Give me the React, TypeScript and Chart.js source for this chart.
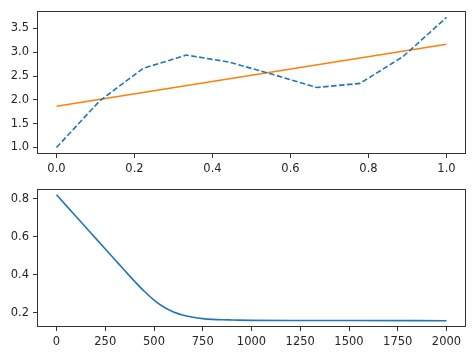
import React, { useEffect, useRef } from "react";
import { Chart, registerables } from "chart.js";

Chart.register(...registerables);

// ---------- data ----------
const TOP_X = [0, 0.111, 0.222, 0.333, 0.444, 0.556, 0.667, 0.778, 0.889, 1.0];
const TOP_BLUE = [1.0, 1.98, 2.66, 2.94, 2.79, 2.53, 2.26, 2.345, 2.91, 3.73];
const FIT_X = [0, 1.0];
const FIT_Y = [1.865, 3.167];
const TOP_X_TICKS = [0, 0.2, 0.4, 0.6, 0.8, 1.0];
const TOP_Y_TICKS = [1.0, 1.5, 2.0, 2.5, 3.0, 3.5];

const LOSS_X = [0, 50, 100, 150, 200, 250, 300, 350, 400, 450, 500, 550, 600, 650, 700, 750, 800, 850, 900, 1000, 1200, 1500, 2000];
const LOSS_Y = [0.82, 0.763, 0.706, 0.649, 0.592, 0.535, 0.478, 0.421, 0.365, 0.312, 0.266, 0.229, 0.203, 0.186, 0.175, 0.168, 0.164, 0.162, 0.161, 0.159, 0.158, 0.158, 0.157];
const LOSS_X_TICKS = [0, 250, 500, 750, 1000, 1250, 1500, 1750, 2000];
const LOSS_Y_TICKS = [0.2, 0.4, 0.6, 0.8];

const BLUE = "#1f77b4";
const ORANGE = "#ff7f0e";
const AXIS = "#333333";
const TEXT = "#262626";
const FONT = { family: "DejaVu Sans", size: 11.5 };

const framePlugin = {
  id: "frame",
  afterDraw(chart: any) {
    const { ctx, chartArea } = chart;
    ctx.save();
    ctx.strokeStyle = AXIS;
    ctx.lineWidth = 1;
    const l = Math.round(chartArea.left) + 0.5;
    const t = Math.round(chartArea.top) + 0.5;
    const r = Math.round(chartArea.right) - 0.5;
    const b = Math.round(chartArea.bottom) - 0.5;
    ctx.strokeRect(l, t, r - l, b - t);
    ctx.restore();
  },
};

function axisOpts(
  min: number,
  max: number,
  ticks: number[],
  fmt: (v: number) => string,
  fitKey: "width" | "height",
  fitVal: number
) {
  return {
    type: "linear" as const,
    min,
    max,
    border: { display: false },
    grid: {
      drawOnChartArea: false,
      drawTicks: true,
      tickLength: 4,
      tickColor: AXIS,
      color: AXIS,
    },
    ticks: {
      color: TEXT,
      padding: 4,
      maxRotation: 0,
      autoSkip: false,
      font: FONT,
      callback: (v: any) => fmt(Number(v)),
    },
    afterBuildTicks: (scale: any) => {
      scale.ticks = ticks.map((v) => ({ value: v }));
    },
    afterFit: (scale: any) => {
      scale[fitKey] = fitVal;
    },
  };
}

function TopChart() {
  const ref = useRef<HTMLCanvasElement>(null);
  useEffect(() => {
    const chart = new Chart(ref.current!, {
      type: "scatter",
      data: {
        datasets: [
          {
            data: TOP_X.map((x, i) => ({ x, y: TOP_BLUE[i] })),
            showLine: true,
            borderColor: BLUE,
            borderWidth: 1.6,
            borderDash: [5.5, 2.5],
            pointRadius: 0,
            fill: false,
          },
          {
            data: FIT_X.map((x, i) => ({ x, y: FIT_Y[i] })),
            showLine: true,
            borderColor: ORANGE,
            borderWidth: 1.6,
            pointRadius: 0,
            fill: false,
          },
        ],
      },
      options: {
        responsive: false,
        animation: false,
        devicePixelRatio: 1,
        layout: { padding: { left: 0, right: 8, top: 9, bottom: 0 } },
        plugins: { legend: { display: false }, tooltip: { enabled: false } },
        scales: {
          x: axisOpts(-0.05, 1.05, TOP_X_TICKS, (v) => v.toFixed(1), "height", 24),
          y: axisOpts(0.8635, 3.8665, TOP_Y_TICKS, (v) => v.toFixed(1), "width", 37),
        },
      },
      plugins: [framePlugin],
    });
    return () => chart.destroy();
  }, []);
  return (
    <canvas
      ref={ref}
      width={474}
      height={178}
      style={{ position: "absolute", left: 0, top: 0, width: 474, height: 178 }}
    />
  );
}

function BottomChart() {
  const ref = useRef<HTMLCanvasElement>(null);
  useEffect(() => {
    const chart = new Chart(ref.current!, {
      type: "scatter",
      data: {
        datasets: [
          {
            data: LOSS_X.map((x, i) => ({ x, y: LOSS_Y[i] })),
            showLine: true,
            borderColor: BLUE,
            borderWidth: 1.6,
            pointRadius: 0,
            cubicInterpolationMode: "monotone",
            fill: false,
          },
        ],
      },
      options: {
        responsive: false,
        animation: false,
        devicePixelRatio: 1,
        layout: { padding: { left: 0, right: 8, top: 5, bottom: 0 } },
        plugins: { legend: { display: false }, tooltip: { enabled: false } },
        scales: {
          x: axisOpts(-100, 2100, LOSS_X_TICKS, (v) => String(Math.round(v)), "height", 30),
          y: axisOpts(0.124, 0.851, LOSS_Y_TICKS, (v) => v.toFixed(1), "width", 37),
        },
      },
      plugins: [framePlugin],
    });
    return () => chart.destroy();
  }, []);
  return (
    <canvas
      ref={ref}
      width={474}
      height={179}
      style={{ position: "absolute", left: 0, top: 178, width: 474, height: 179 }}
    />
  );
}

export default function App() {
  return (
    <div
      style={{
        position: "fixed",
        left: 0,
        top: 0,
        width: 474,
        height: 357,
        background: "#ffffff",
        overflow: "hidden",
      }}
    >
      <TopChart />
      <BottomChart />
    </div>
  );
}
